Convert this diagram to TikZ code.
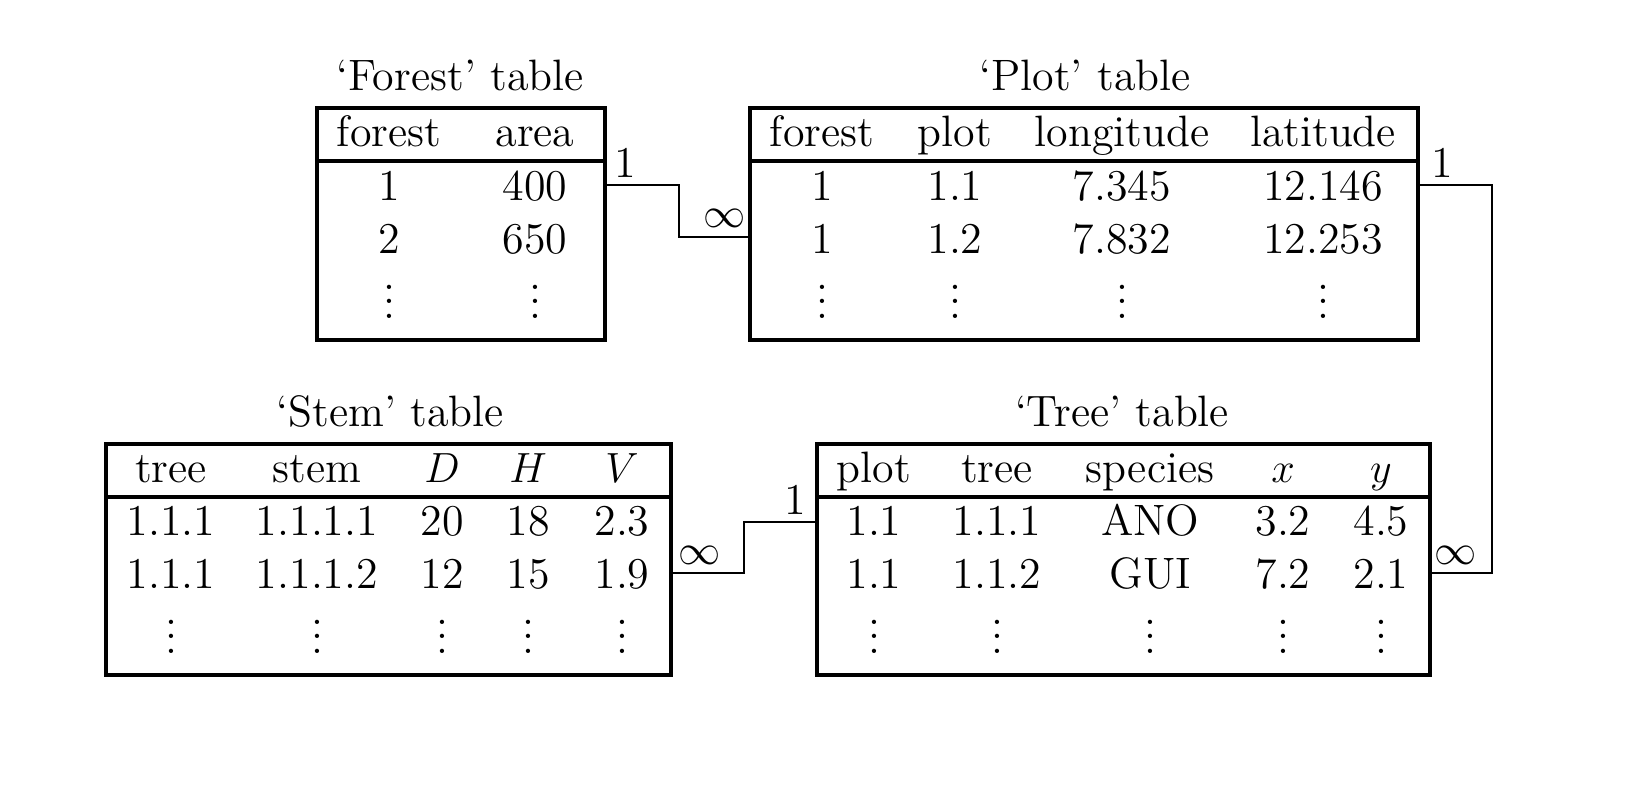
\documentclass[tikz,border=0pt]{standalone}
\begin{document}
\begin{tikzpicture}[x=0.01cm,y=-0.01cm,
  txt/.style={inner sep=0pt,anchor=base,font=\fontsize{12.5}{15}\selectfont},
  tb/.style={line width=0.9pt},
  con/.style={line width=0.7pt},
  lab/.style={inner sep=0pt,font=\fontsize{12.5}{15}\selectfont}]
\useasboundingbox (0,0) rectangle (1630,793);
% tables
\draw[tb] (317,108) rectangle (605,340) (317,161) -- (605,161);
\draw[tb] (750,108) rectangle (1418,340) (750,161) -- (1418,161);
\draw[tb] (106,444) rectangle (671,675) (106,497) -- (671,497);
\draw[tb] (817,444) rectangle (1430,675) (817,497) -- (1430,497);
\coordinate (forestR1) at (605,185);
\coordinate (plotR2) at (750,237);
\coordinate (plotR1) at (1418,185);
\coordinate (treeR2) at (1430,573);
\coordinate (treeR1) at (817,522);
\coordinate (stemR2) at (671,573);
% titles
\node[txt] (t1) at (460,90) {`Forest' table};
\node[txt] (t2) at (1085,90) {`Plot' table};
\node[txt] (t3) at (390,426) {`Stem' table};
\node[txt] (t4) at (1122,426) {`Tree' table};
% forest
\foreach \x/\a/\b/\c in {389/forest/1/2, 535/area/400/650}{
  \node[txt] at (\x,146) {\a};
  \node[txt] at (\x,200) {\b};
  \node[txt] at (\x,253) {\c};
  \node[txt] at (\x,318) {$\vdots$};}
% plot
\foreach \x/\a/\b/\c in {822/forest/1/1, 955/plot/1.1/1.2, 1122/longitude/7.345/7.832, 1323/latitude/12.146/12.253}{
  \node[txt] at (\x,146) {\a};
  \node[txt] at (\x,200) {\b};
  \node[txt] at (\x,253) {\c};
  \node[txt] at (\x,318) {$\vdots$};}
% stem
\foreach \x/\a/\b/\c in {171/tree/1.1.1/1.1.1, 317/stem/1.1.1.1/1.1.1.2, 442/$D$/20/12, 528/$H$/18/15, 622/$V$/2.3/1.9}{
  \node[txt] at (\x,482) {\a};
  \node[txt] at (\x,535) {\b};
  \node[txt] at (\x,588) {\c};
  \node[txt] at (\x,653) {$\vdots$};}
% tree
\foreach \x/\a/\b/\c in {874/plot/1.1/1.1, 997/tree/1.1.1/1.1.2, 1150/species/ANO/GUI, 1283/$x$/3.2/7.2, 1381/$y$/4.5/2.1}{
  \node[txt] at (\x,482) {\a};
  \node[txt] at (\x,535) {\b};
  \node[txt] at (\x,588) {\c};
  \node[txt] at (\x,653) {$\vdots$};}
% connectors
\draw[con] (forestR1) -| (679,237) -- (plotR2);
\draw[con] (plotR1) -| (1492,573) -- (treeR2);
\draw[con] (treeR1) -| (744,573) -- (stemR2);
\node[lab] at (625,163) {1};
\node[lab] at (725,218) {$\infty$};
\node[lab] at (1442,163) {1};
\node[lab] at (1456,555) {$\infty$};
\node[lab] at (795,500) {1};
\node[lab] at (700,555) {$\infty$};
\end{tikzpicture}
\end{document}
